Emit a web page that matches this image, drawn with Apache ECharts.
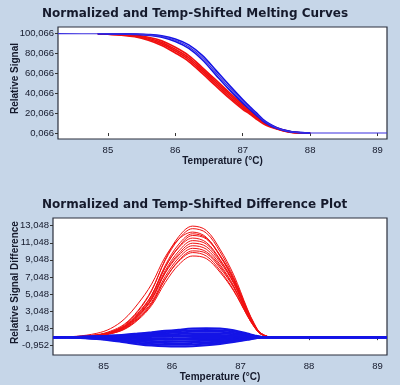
<!DOCTYPE html>
<html><head><meta charset="utf-8">
<script src="https://cdn.jsdelivr.net/npm/echarts@6/dist/echarts.min.js"></script>
<style>html,body{margin:0;padding:0;background:#c6d6e8}#c{width:400px;height:385px}</style>
</head><body><div id="c"></div>
<script>
// ---------- Data: melting curves ----------
const meltTemps = [84.26, 84.85, 85.0, 85.2, 85.4, 85.6, 85.8, 86.0, 86.2, 86.4, 86.6, 86.8, 87.0, 87.1, 87.2, 87.3, 87.4, 87.5, 87.6, 87.75, 88.0, 89.14];
const meltRed1 = [null, 100.0, 99.8, 99.4, 98.6, 96.5, 92.8, 86.3, 78.0, 66.0, 53.5, 40.8, 29.0, 23.6, 17.8, 12.4, 8.3, 5.4, 3.0, 0.8, 0.066, null];
const meltRed2 = [null, 100.0, 99.7, 99.1, 98.0, 95.5, 91.2, 84.4, 76.0, 64.0, 51.5, 39.0, 27.3, 22.2, 16.6, 11.5, 7.6, 5.0, 2.7, 0.7, 0.066, null];
const meltRed3 = [null, 100.0, 99.6, 98.9, 97.6, 94.5, 89.8, 82.6, 74.0, 62.0, 49.5, 37.0, 25.7, 20.8, 15.4, 10.5, 7.0, 4.6, 2.5, 0.6, 0.066, null];
const meltRed4 = [null, 100.0, 99.5, 98.6, 97.0, 93.5, 88.2, 80.7, 72.0, 60.0, 47.5, 35.2, 24.0, 19.4, 14.2, 9.6, 6.4, 4.2, 2.3, 0.5, 0.066, null];
const meltBlue1 = [null, 100.0, 100.0, 99.95, 99.8, 99.3, 98.0, 94.8, 88.8, 78.2, 63.4, 48.3, 33.8, 27.0, 20.5, 13.9, 9.1, 5.6, 3.2, 1.1, 0.066, null];
const meltBlue2 = [100.066, 100.0, 100.0, 99.9, 99.6, 98.9, 97.2, 93.5, 87.0, 76.0, 61.0, 46.0, 32.0, 25.5, 19.3, 13.0, 8.5, 5.2, 3.0, 1.0, 0.066, 0.066];
const meltBlue3 = [null, 100.0, 99.9, 99.8, 99.4, 98.5, 96.4, 92.2, 85.2, 73.8, 58.6, 43.7, 30.2, 24.0, 18.1, 12.1, 7.9, 4.8, 2.8, 0.9, 0.066, null];

// ---------- Data: difference curves ----------
const diffTemps = [84.26, 84.6, 84.9, 85.1, 85.3, 85.5, 85.7, 85.9, 86.1, 86.3, 86.5, 86.7, 86.9, 87.1, 87.2, 87.3, 87.5, 88.0, 89.14];
const diffRed1 = [0, 0.05, 0.25, 0.6, 1.4, 3.0, 5.4, 9.1, 11.8, 13.0, 12.5, 10.3, 7.3, 3.3, 1.6, 0.45, -0.05, 0, 0];
const diffRed2 = [0, 0.06, 0.28, 0.7, 1.5, 3.1, 5.5, 9.0, 11.5, 12.7, 12.2, 10.0, 7.0, 3.2, 1.5, 0.4, -0.05, 0, 0];
const diffRed3 = [0, 0.05, 0.22, 0.55, 1.25, 2.7, 4.9, 8.4, 10.9, 12.1, 11.6, 9.6, 6.8, 3.0, 1.4, 0.4, -0.05, 0, 0];
const diffRed4 = [0, 0.04, 0.2, 0.5, 1.2, 2.6, 4.7, 8.2, 10.6, 11.9, 11.5, 9.5, 6.8, 3.1, 1.5, 0.45, -0.05, 0, 0];
const diffRed5 = [0, 0.06, 0.25, 0.6, 1.3, 2.8, 4.9, 8.2, 10.5, 11.6, 11.1, 9.1, 6.4, 2.9, 1.4, 0.4, -0.05, 0, 0];
const diffRed6 = [0, 0.05, 0.2, 0.5, 1.15, 2.5, 4.5, 7.8, 10.1, 11.3, 10.9, 9.0, 6.4, 2.9, 1.4, 0.4, -0.05, 0, 0];
const diffRed7 = [0, 0.04, 0.18, 0.45, 1.1, 2.4, 4.4, 7.6, 9.8, 11.0, 10.6, 8.8, 6.3, 2.9, 1.4, 0.4, -0.05, 0, 0];
const diffRed8 = [0, 0.05, 0.22, 0.55, 1.2, 2.5, 4.4, 7.5, 9.6, 10.7, 10.3, 8.5, 6.0, 2.7, 1.3, 0.35, -0.05, 0, 0];
const diffRed9 = [0, 0.04, 0.18, 0.45, 1.05, 2.3, 4.1, 7.1, 9.3, 10.4, 10.0, 8.3, 5.9, 2.7, 1.3, 0.35, -0.05, 0, 0];
const diffRed10 = [0, 0.03, 0.15, 0.4, 0.95, 2.1, 3.9, 6.8, 9.0, 10.1, 9.8, 8.1, 5.8, 2.6, 1.25, 0.35, -0.05, 0, 0];
const diffRed11 = [0, 0.04, 0.17, 0.45, 1.0, 2.2, 3.9, 6.8, 8.9, 9.9, 9.5, 7.8, 5.5, 2.5, 1.2, 0.35, -0.05, 0, 0];
const diffRed12 = [0, 0.03, 0.15, 0.4, 0.9, 2.0, 3.7, 6.4, 8.5, 9.5, 9.2, 7.6, 5.4, 2.5, 1.2, 0.35, -0.05, 0, 0];
const diffRed13 = [0, 0.1, 0.45, 1.0, 2.1, 3.9, 6.2, 9.4, 11.5, 12.3, 11.7, 9.5, 6.6, 3.0, 1.4, 0.4, -0.05, 0, 0];
const diffBlue1 = [0, 0.03, 0.1, 0.18, 0.28, 0.42, 0.57, 0.74, 0.88, 1.0, 1.05, 1.0, 0.8, 0.42, 0.21, 0.04, 0, 0, 0];
const diffBlue2 = [0, 0.02, 0.08, 0.15, 0.23, 0.34, 0.46, 0.6, 0.71, 0.81, 0.85, 0.81, 0.65, 0.34, 0.17, 0.03, 0, 0, 0];
const diffBlue3 = [0, 0.02, 0.07, 0.11, 0.18, 0.26, 0.35, 0.46, 0.55, 0.62, 0.65, 0.62, 0.49, 0.26, 0.13, 0.03, 0, 0, 0];
const diffBlue4 = [0, 0.01, 0.05, 0.08, 0.12, 0.18, 0.24, 0.32, 0.38, 0.43, 0.45, 0.43, 0.34, 0.18, 0.09, 0.02, 0, 0, 0];
const diffBlue5 = [0, 0.01, 0.03, 0.04, 0.07, 0.1, 0.14, 0.18, 0.21, 0.24, 0.25, 0.24, 0.19, 0.1, 0.05, 0.01, 0, 0, 0];
const diffBlue6 = [0, 0, 0.01, 0.02, 0.03, 0.04, 0.05, 0.06, 0.07, 0.08, 0.08, 0.07, 0.06, 0.03, 0.02, 0, 0, 0, 0];
const diffBlue7 = [0, -0.01, -0.03, -0.05, -0.07, -0.09, -0.11, -0.12, -0.12, -0.11, -0.1, -0.09, -0.06, -0.03, -0.02, 0, 0, 0, 0];
const diffBlue8 = [0, -0.02, -0.06, -0.1, -0.16, -0.22, -0.27, -0.29, -0.3, -0.29, -0.26, -0.22, -0.16, -0.08, -0.05, -0.01, 0, 0, 0];
const diffBlue9 = [0, -0.03, -0.1, -0.17, -0.27, -0.37, -0.45, -0.49, -0.5, -0.48, -0.43, -0.36, -0.26, -0.14, -0.07, -0.02, 0, 0, 0];
const diffBlue10 = [0, -0.04, -0.14, -0.24, -0.38, -0.52, -0.63, -0.69, -0.7, -0.67, -0.61, -0.5, -0.36, -0.2, -0.1, -0.03, 0, 0, 0];
const diffBlue11 = [0, -0.05, -0.18, -0.31, -0.5, -0.67, -0.81, -0.88, -0.9, -0.86, -0.78, -0.65, -0.47, -0.25, -0.13, -0.04, 0, 0, 0];
const diffBlue12 = [0, -0.06, -0.22, -0.38, -0.6, -0.82, -0.99, -1.08, -1.1, -1.06, -0.96, -0.79, -0.57, -0.31, -0.16, -0.04, 0, 0, 0];

// ---------- Tick labels ----------
const tempTicks = [85, 86, 87, 88, 89];
const meltTicks = [0.066, 20.066, 40.066, 60.066, 80.066, 100.066];
const diffTicks = [-0.952, 1.048, 3.048, 5.048, 7.048, 9.048, 11.048, 13.048];

const titleTop = 'Normalized and Temp-Shifted Melting Curves';
const titleBottom = 'Normalized and Temp-Shifted Difference Plot';

const RED = '#f01010', BLUE = '#1414e6';
const textColor = '#151a2c';
const fmtComma = v => v.toFixed(3).replace('.', ',');

function pairs(temps, vals) {
  return temps.map((t, i) => [t, vals[i] == null ? '-' : vals[i]]);
}
function line(idx, temps, vals, color, width, opacity) {
  return {
    type: 'line', xAxisIndex: idx, yAxisIndex: idx, data: pairs(temps, vals),
    showSymbol: false, smooth: 0.35, connectNulls: false, silent: true,
    lineStyle: { color: color, width: width, opacity: opacity == null ? 1 : opacity }
  };
}

const series = [];
[meltRed1, meltRed2, meltRed3, meltRed4].forEach(v => series.push(line(0, meltTemps, v, RED, 1.7)));
[meltBlue1, meltBlue3].forEach(v => series.push(line(0, meltTemps, v, BLUE, 1.6)));
series.push(line(0, meltTemps, meltBlue2, '#3a2ee0', 1.2));
[diffRed1, diffRed2, diffRed3, diffRed4, diffRed5, diffRed6, diffRed7, diffRed8, diffRed9, diffRed10, diffRed11, diffRed12, diffRed13]
  .forEach(v => series.push(line(1, diffTemps, v, RED, 1)));
[diffBlue1, diffBlue2, diffBlue3, diffBlue4, diffBlue5, diffBlue6, diffBlue7, diffBlue8, diffBlue9, diffBlue10, diffBlue11, diffBlue12]
  .forEach(v => series.push(line(1, diffTemps, v, BLUE, 2)));

const labelFont = { fontFamily: 'Liberation Sans', fontSize: 9.5, color: textColor };
const nameFont = { fontFamily: 'Liberation Sans', fontSize: 10, fontWeight: 'bold', color: textColor };

function xAxis(gi) {
  return {
    type: 'value', gridIndex: gi, min: 84.26, max: 89.14,
    axisLine: { show: false }, splitLine: { show: false },
    axisTick: { show: true, customValues: tempTicks, length: 3, lineStyle: { color: '#333' } },
    axisLabel: Object.assign({ customValues: tempTicks, margin: 6 }, labelFont),
    name: 'Temperature (\u00B0C)', nameLocation: 'middle', nameGap: 17, nameMoveOverlap: false, nameTextStyle: nameFont
  };
}
function yAxis(gi, min, max, ticks, name, gap, margin, pad) {
  return {
    type: 'value', gridIndex: gi, min: min, max: max,
    axisLine: { show: false }, splitLine: { show: false },
    axisTick: { show: true, customValues: ticks, length: 3, lineStyle: { color: '#333' } },
    axisLabel: Object.assign({ customValues: ticks, margin: margin, formatter: fmtComma }, labelFont),
    name: name, nameLocation: 'middle', nameGap: gap, nameMoveOverlap: false,
    nameTextStyle: Object.assign({ padding: pad }, nameFont)
  };
}

const chart = echarts.init(document.getElementById('c'), null, { renderer: 'canvas' });
chart.setOption({
  animation: false,
  backgroundColor: '#c6d6e8',
  title: [
    { text: titleTop, left: 42, top: 8, padding: 0, textStyle: { fontFamily: 'DejaVu Sans', fontWeight: 'bold', fontSize: 12, color: textColor } },
    { text: titleBottom, left: 42, top: 199, padding: 0, textStyle: { fontFamily: 'DejaVu Sans', fontWeight: 'bold', fontSize: 12, color: textColor } }
  ],
  grid: [
    { left: 58, top: 27, width: 329, height: 112, containLabel: false, outerBoundsMode: 'none', show: true, backgroundColor: '#ffffff', borderColor: '#2a2f3c', borderWidth: 1.2 },
    { left: 53, top: 218, width: 334, height: 137, containLabel: false, outerBoundsMode: 'none', show: true, backgroundColor: '#ffffff', borderColor: '#2a2f3c', borderWidth: 1.2 }
  ],
  xAxis: [xAxis(0), xAxis(1)],
  yAxis: [
    yAxis(0, -6.0, 106.8, meltTicks, 'Relative Signal', 38, 4, [0, 0, 0, 9]),
    yAxis(1, -2.09, 13.95, diffTicks, 'Relative Signal Difference', 33, 4, [0, 0, 0, 8])
  ],
  series: series
});
</script>
</body></html>
